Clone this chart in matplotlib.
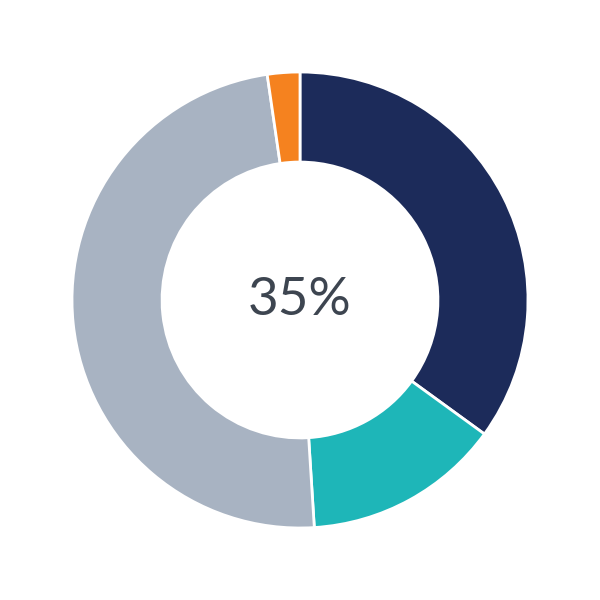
import matplotlib.pyplot as plt

labels = ["Navy", "Teal", "Gray", "Orange"]
values = [35, 14, 48.7, 2.3]
colors = ["#1c2b5a", "#1eb6b8", "#a8b3c2", "#f5821f"]
center_label = "35%"

fig = plt.figure(figsize=(6, 6), dpi=100)
ax = fig.add_axes([0, 0, 1, 1])
ax.pie(values, colors=colors, startangle=90, counterclock=False, radius=1,
       wedgeprops=dict(width=0.395, edgecolor="white", linewidth=2))
ax.text(0, 0, center_label, ha="center", va="center", fontsize=38,
        color="#3d4550", family=["Lato", "DejaVu Sans"])
lim = 300 / 228
ax.set_xlim(-lim, lim)
ax.set_ylim(-lim, lim)
ax.set_aspect("equal")
ax.axis("off")
fig.savefig("out.png", dpi=100, facecolor="white")
